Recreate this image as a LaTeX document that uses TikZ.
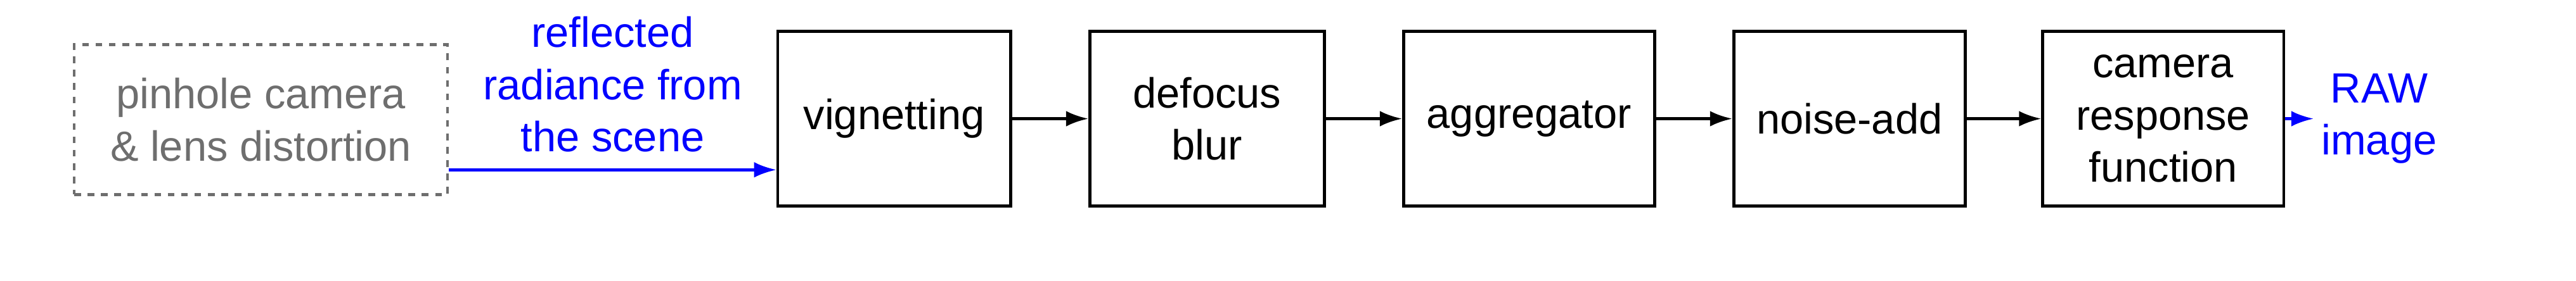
\documentclass[tikz,border=0pt]{standalone}
\usepackage{fontspec}
\setmainfont{Liberation Sans}
\usetikzlibrary{positioning,arrows.meta}
\definecolor{rayblue}{RGB}{0,0,255}
\definecolor{stagegray}{RGB}{110,110,110}
\begin{document}
\begin{tikzpicture}[
    x=0.02605cm, y=-0.02605cm,
    font=\fontsize{19}{23.5}\selectfont,
    stage/.style={%
      draw,
      rectangle,
      line width=1.3pt,
      align=center,
      minimum height=2.76cm,
      inner sep=0pt,
    },
    flow/.style={-{Latex[length=10pt,width=7pt]}, line width=1.3pt},
  ]

    \useasboundingbox (0,0) rectangle (1560,170.4);

    \node [stage, dashed, draw=stagegray, text=stagegray,
           minimum width=5.89cm, minimum height=2.37cm] (P) at (158,72.5)
          {pinhole camera\\\& lens distortion};
    \node [stage, minimum width=3.67cm] (V) at (541.5,72) {vignetting};
    \node [stage, minimum width=3.70cm] (D) at (731,72) {defocus\\blur};
    \node [stage, minimum width=3.96cm] (A) at (926,72) {aggregator};
    \node [stage, minimum width=3.65cm] (N) at (1120,72) {noise-add};
    \node [stage, minimum width=3.80cm] (C) at (1310,72) {camera\\response\\function};
    \node [text=rayblue, align=center, right=0.45cm of C] (R) {RAW\\image};

    \coordinate (pin) at (P.east |- 0,103);
    \coordinate (vin) at (V.west |- 0,103);
    \draw [flow, rayblue] (pin) -- (vin)
      node [midway, above, align=center, yshift=4pt] (L) {reflected\\radiance from\\the scene};
    \draw [flow] (V) -- (D);
    \draw [flow] (D) -- (A);
    \draw [flow] (A) -- (N);
    \draw [flow] (N) -- (C);
    \draw [flow, rayblue] (C) -- (R);

\end{tikzpicture}
\end{document}
